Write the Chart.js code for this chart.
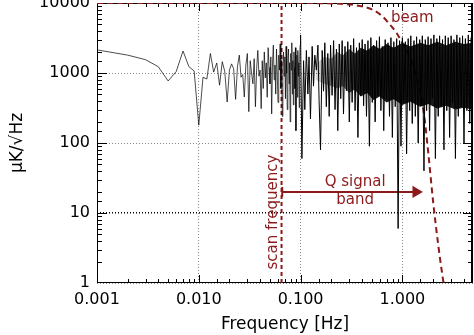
<!DOCTYPE html>
<html>
<head>
<meta charset="utf-8">
<script src="https://cdn.jsdelivr.net/npm/chart.js@4.4.1/dist/chart.umd.min.js"></script>
<style>
  html, body { margin: 0; padding: 0; background: #fff; }
  canvas { display: block; }
</style>
</head>
<body>
<canvas id="noiseChart" width="474" height="335"></canvas>
<script>
// low-frequency end of the spectrum, one bin per 0.001 Hz (0.001 ... 0.100 Hz)
const lowStep = 0.001;
const lowValues = [
  2140, 1800, 1550, 1230, 770, 1050, 2060, 1230, 1070, 180,
  870, 820, 1900, 1030, 1390, 670, 1450, 1050, 385, 1100,
  1350, 1150, 420, 1250, 1800, 870, 950, 455, 1300, 1900,
  280, 1500, 1000, 700, 1600, 330, 1150, 2100, 900, 1100,
  310, 1500, 600, 2000, 850, 1400, 450, 2300, 1200, 700,
  1700, 260, 1400, 2500, 800, 1300, 500, 2200, 1000, 380,
  1800, 1100, 2600, 600, 1500, 240, 1300, 2000, 900, 1700,
  430, 2400, 1000, 300, 1600, 2200, 700, 1400, 200, 1900,
  1100, 2700, 500, 1500, 350, 2000, 1200, 600, 2300, 150,
  1000, 1800, 450, 2100, 900, 1400, 320, 1700, 2500, 3500
];

const highFreqs = [
  0.103, 0.107, 0.110, 0.114, 0.118, 0.121, 0.125, 0.130, 0.134, 0.138,
  0.143, 0.148, 0.152, 0.157, 0.163, 0.168, 0.173, 0.179, 0.185, 0.191,
  0.197, 0.204, 0.211, 0.218, 0.225, 0.232, 0.240, 0.248, 0.256, 0.264,
  0.273, 0.282, 0.291, 0.301, 0.311, 0.321, 0.332, 0.343, 0.354, 0.366,
  0.378, 0.390, 0.403, 0.416, 0.430, 0.444, 0.459, 0.474, 0.490, 0.506,
  0.523, 0.540, 0.558, 0.576, 0.595, 0.615, 0.635, 0.656, 0.678, 0.700,
  0.723, 0.747, 0.772, 0.797, 0.824, 0.851, 0.879, 0.908, 0.938, 0.969,
  1.00, 1.03, 1.07, 1.10, 1.14, 1.18, 1.21, 1.25, 1.30, 1.34,
  1.38, 1.43, 1.48, 1.52, 1.57, 1.63, 1.68, 1.73, 1.79, 1.85,
  1.91, 1.97, 2.04, 2.11, 2.18, 2.25, 2.32, 2.40, 2.48, 2.56,
  2.64, 2.73, 2.82, 2.91, 3.01, 3.11, 3.21, 3.32, 3.43, 3.54,
  3.66, 3.78, 3.90, 4.03, 4.16, 4.30, 4.44, 4.59, 4.74, 4.90
];
const highValues = [
  60, 1500, 300, 2100, 500, 1700, 220, 2400, 650, 1800,
  1100, 2500, 400, 80, 2100, 550, 2700, 330, 1900, 240,
  2500, 480, 2900, 300, 2200, 150, 2600, 430, 2900, 260,
  2400, 560, 2800, 200, 2500, 380, 3100, 290, 2300, 120,
  2700, 470, 3000, 340, 2600, 240, 2900, 90, 3200, 380,
  2500, 200, 2900, 470, 3300, 290, 2400, 150, 3000, 420,
  2700, 240, 3200, 120, 2800, 330, 3100, 6, 2900, 90,
  3200, 380, 2800, 70, 3100, 290, 3400, 190, 2900, 240,
  3300, 100, 3000, 340, 3400, 40, 3000, 290, 3300, 150,
  3100, 430, 3500, 60, 3100, 240, 3400, 330, 3000, 80,
  3400, 290, 3200, 120, 3400, 380, 3000, 60, 3500, 240,
  3200, 330, 3400, 100, 3100, 290, 3500, 190, 3200, 450
];

// solid black core of the dense noise (upper / lower edge)
const coreFreqs = [0.14, 0.17, 0.2, 0.23, 0.26, 0.3, 0.34, 0.39, 0.45, 0.52, 0.6, 0.7, 0.82, 1.0, 1.2, 1.5, 1.8, 2.2, 2.7, 3.3, 4.0, 4.94];
const coreUpper = [1300, 1700, 1600, 2000, 1800, 2200, 1900, 2300, 2100, 2500, 2200, 2600, 2300, 2700, 2400, 2700, 2500, 2800, 2500, 2800, 2600, 2700];
const coreLower = [800, 700, 650, 600, 650, 520, 580, 460, 520, 410, 460, 380, 420, 350, 390, 330, 360, 310, 340, 300, 320, 300];

// beam response
const beamFreqs = [0.001, 0.05, 0.15, 0.31, 0.42, 0.52, 0.64, 0.76, 0.88, 1.0, 1.14, 1.28, 1.45, 1.61, 1.8, 2.01, 2.25, 2.47, 2.6];
const beamValues = [10000, 10000, 9950, 9500, 8800, 7900, 6400, 4850, 3700, 2680, 1900, 1220, 650, 300, 70, 14, 3.5, 1.3, 0.8];

// markers
const scanFreq = 0.065;
const bandFreqs = [0.066, 1.36];
const bandLevel = 20;

const xTickLabels = ["0.001", "0.010", "0.100", "1.000"];
const yTickLabels = ["1", "10", "100", "1000", "10000"];

const darkRed = "#8b1a1a";

const isDecade = (v) => Math.abs(Math.log10(v) - Math.round(Math.log10(v))) < 1e-6;
const labelFrom = (labels) => (v) => labels.find((l) => Math.abs(parseFloat(l) - v) < v * 1e-6) || "";

// IDL style: ticks pointing into the plot on all four sides, plus the frame
const insideTicks = {
  id: "insideTicks",
  beforeDatasetsDraw(chart) {
    const { ctx, chartArea: a, scales: { x, y } } = chart;
    ctx.save();
    ctx.strokeStyle = "#000";
    ctx.lineWidth = 1;
    ctx.beginPath();
    x.ticks.forEach((t) => {
      if (t.value <= x.min || t.value >= x.max) return;
      const px = Math.round(x.getPixelForValue(t.value)) + 0.5;
      const len = isDecade(t.value) ? 8 : 4;
      ctx.moveTo(px, a.bottom); ctx.lineTo(px, a.bottom - len);
      ctx.moveTo(px, a.top); ctx.lineTo(px, a.top + len);
    });
    y.ticks.forEach((t) => {
      if (t.value <= y.min || t.value >= y.max) return;
      const py = Math.round(y.getPixelForValue(t.value)) + 0.5;
      const len = isDecade(t.value) ? 10 : 5;
      ctx.moveTo(a.left, py); ctx.lineTo(a.left + len, py);
      ctx.moveTo(a.right, py); ctx.lineTo(a.right - len, py);
    });
    ctx.stroke();
    ctx.strokeRect(a.left + 0.5, a.top + 0.5, a.width - 1, a.height - 1);
    ctx.lineWidth = 2;
    ctx.beginPath();
    ctx.moveTo(a.right - 1, a.top); ctx.lineTo(a.right - 1, a.bottom);
    ctx.stroke();
    ctx.restore();
  }
};

// red text notes, placed in data coordinates
const notes = [
  { text: "beam", f: 1.25, v: 6100, rot: 0 },
  { text: "Q signal", f: 0.344, v: 27.7, rot: 0 },
  { text: "band", f: 0.344, v: 15.3, rot: 0 },
  { text: "scan frequency", f: 0.0537, v: 10.3, rot: -Math.PI / 2 }
];

const noteText = {
  id: "noteText",
  afterDatasetsDraw(chart) {
    const { ctx, scales: { x, y } } = chart;
    ctx.save();
    ctx.fillStyle = darkRed;
    ctx.font = "15px 'DejaVu Sans'";
    ctx.textAlign = "center";
    ctx.textBaseline = "middle";
    notes.forEach((n) => {
      ctx.save();
      ctx.translate(x.getPixelForValue(n.f), y.getPixelForValue(n.v));
      ctx.rotate(n.rot);
      ctx.fillText(n.text, 0, 0);
      ctx.restore();
    });
    ctx.restore();
  }
};

function gridStyle(v, axis) {
  if (v === undefined || !isDecade(v)) return "rgba(0,0,0,0)";
  if (axis === "y" && Math.abs(v - 10) < 1e-6) return "#000";
  return "#888";
}

// core fades in from the left, where the noise is still sparse
function coreFill(c) {
  const { chart } = c;
  const x = chart.scales.x;
  if (!chart.chartArea || !x) return "rgba(0,0,0,0.85)";
  const g = chart.ctx.createLinearGradient(x.getPixelForValue(0.14), 0, x.getPixelForValue(0.4), 0);
  g.addColorStop(0, "rgba(0,0,0,0.15)");
  g.addColorStop(1, "rgba(0,0,0,0.9)");
  return g;
}

function createNoiseChart() {
  const lowData = lowValues.map((v, i) => ({ x: (i + 1) * lowStep, y: v }));
  const highData = highFreqs.map((f, i) => ({ x: f, y: highValues[i] }));
  const beamData = beamFreqs.map((f, i) => ({ x: f, y: beamValues[i] }));

  const config = {
    type: "line",
    data: {
      datasets: [
        {
          data: coreFreqs.map((f, i) => ({ x: f, y: coreUpper[i] })),
          borderWidth: 0, pointRadius: 0, backgroundColor: coreFill, fill: "+1"
        },
        {
          data: coreFreqs.map((f, i) => ({ x: f, y: coreLower[i] })),
          borderWidth: 0, pointRadius: 0
        },
        { data: lowData, borderColor: "rgba(0,0,0,0.7)", borderWidth: 1, pointRadius: 0 },
        { data: [lowData[lowData.length - 1]].concat(highData), borderColor: "#000", borderWidth: 1, pointRadius: 0 },
        {
          data: beamData, borderColor: darkRed, borderWidth: 2, borderDash: [6, 4],
          pointRadius: 0, cubicInterpolationMode: "monotone"
        },
        {
          data: [{ x: scanFreq, y: 1 }, { x: scanFreq, y: 10000 }],
          borderColor: darkRed, borderWidth: 2, borderDash: [4, 3], pointRadius: 0
        },
        {
          data: bandFreqs.map((f) => ({ x: f, y: bandLevel })),
          borderColor: darkRed, backgroundColor: darkRed, borderWidth: 2,
          pointStyle: ["line", "triangle"], rotation: [90, 90], pointRadius: [5, 5]
        }
      ]
    },
    options: {
      responsive: false,
      animation: false,
      layout: { autoPadding: false, padding: { top: 3, right: 1 } },
      scales: {
        x: {
          type: "logarithmic",
          min: 0.001,
          max: 4.94,
          afterFit: (s) => { s.height = 52; s.paddingLeft = 0; s.paddingRight = 0; },
          grid: {
            drawTicks: false,
            color: (c) => gridStyle(c.tick && c.tick.value, "x"),
            lineWidth: 1
          },
          border: { display: false, dash: [1, 2] },
          ticks: {
            autoSkip: false, maxRotation: 0, minRotation: 0, padding: 7,
            color: "#000", font: { size: 16 },
            callback: labelFrom(xTickLabels)
          },
          title: {
            display: true, text: "Frequency [Hz]", color: "#000",
            font: { size: 17 }, padding: { top: 0, bottom: 0 }
          }
        },
        y: {
          type: "logarithmic",
          min: 1,
          max: 10000,
          afterFit: (s) => { s.width = 97; s.paddingTop = 0; s.paddingBottom = 0; },
          grid: {
            drawTicks: false,
            color: (c) => gridStyle(c.tick && c.tick.value, "y"),
            lineWidth: (c) => (c.tick && Math.abs(c.tick.value - 10) < 1e-6 ? 1.5 : 1)
          },
          border: { display: false, dash: [1, 2] },
          ticks: {
            autoSkip: false, padding: 7, color: "#000", font: { size: 16 },
            callback: labelFrom(yTickLabels)
          },
          title: {
            display: true, text: "μK/√Hz", color: "#000",
            font: { size: 17 }, padding: { top: 7, bottom: 0 }
          }
        }
      },
      plugins: {
        legend: false,
        tooltip: { enabled: false },
        filler: { propagate: false }
      }
    },
    plugins: [insideTicks, noteText]
  };

  const ctx = document.getElementById("noiseChart");
  new Chart(ctx, config);
}

Chart.defaults.font.family = "'DejaVu Sans'";

document.addEventListener("DOMContentLoaded", () => {
  createNoiseChart();
});
</script>
</body>
</html>
